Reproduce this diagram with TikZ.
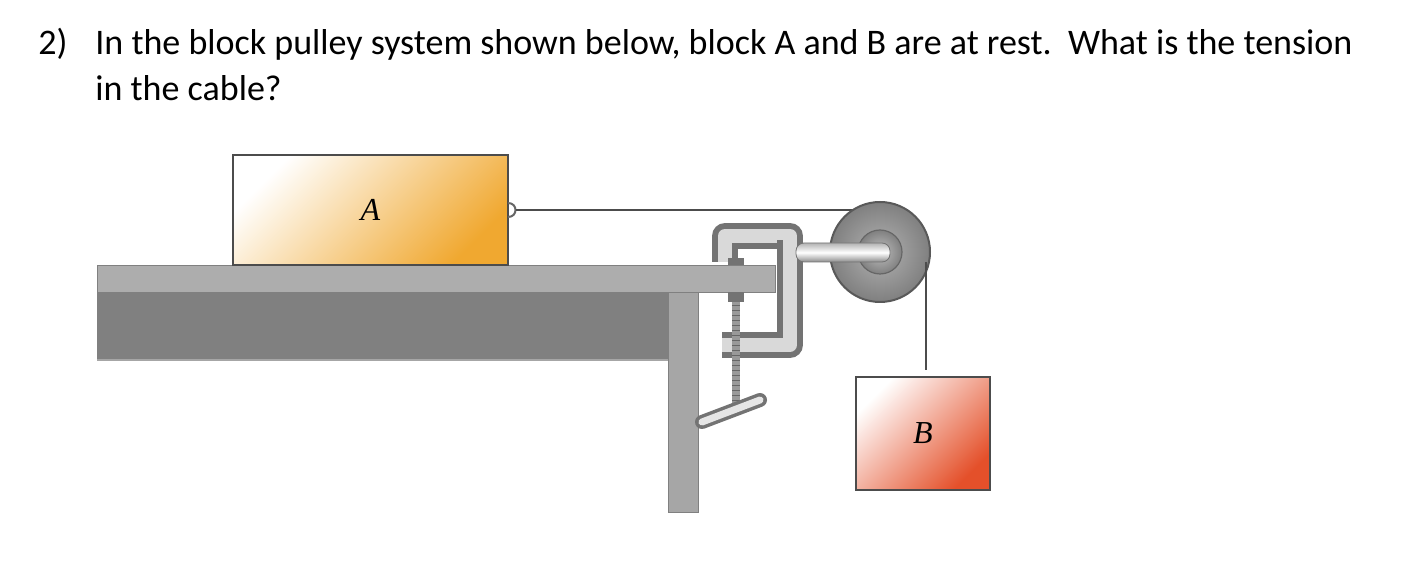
\documentclass[tikz,border=0pt]{standalone}
\usepackage{fontspec}
\setmainfont{Carlito}
\newfontfamily\lblfont{Liberation Serif}
\definecolor{aor}{HTML}{F0A830}
\definecolor{bor}{HTML}{E4502A}
\begin{document}
\begin{tikzpicture}[x=0.5pt,y=-0.5pt,
  txt/.style={anchor=base west,inner sep=0,font=\fontsize{18}{21}\selectfont},
  blk/.style={draw=black!70,line width=1pt},
  cable/.style={draw=black!70,line width=1pt}]
\useasboundingbox (0,0) rectangle (1404,576);
\node[txt] (n) at (38,55) {2)};
\node[txt] (l1) at (95,55) {In the block pulley system shown below, block A and B are at rest.\ \ What is the tension};
\node[txt] (l2) at (95,101) {in the cable?};
% table
\fill[black!50] (97,292) rectangle (668,360);
\draw[black!35,line width=1pt] (97,360) -- (668,360);
\fill[black!35,draw=black!50] (668,292) rectangle (698,512);
\fill[black!32,draw=black!50] (97,265) rectangle (775,292);
% block A
\shade[left color=white,right color=aor,shading angle=45] (233,155) rectangle (508,265);
\node[blk,minimum width=137.5pt,minimum height=55pt,inner sep=0] (A) at (370.5,210) {\lblfont\itshape\fontsize{16}{16}\selectfont A};
\draw[black!60,line width=1pt] (508,203) .. controls (518,203) and (518,217) .. (508,217);
% cable top
\coordinate (c1) at (516,210);
\coordinate (c2) at (860,210);
\draw[cable] (c1) -- (c2);
% clamp
\draw[black!55,line width=13pt,line join=round] (790,252) -- (790,236) -- (725,236) -- (725,262);
\draw[white!85!black,line width=7pt,line join=round] (790,252) -- (790,236) -- (725,236) -- (725,262);
\draw[black!55,line width=13pt,line join=round] (790,240) -- (790,345) -- (722,345);
\draw[white!85!black,line width=7pt,line join=round] (790,240) -- (790,345) -- (722,345);
% screw
\fill[black!40] (732,298) rectangle (740,410);
\foreach \yy in {300,305,...,405} \draw[black!60,line width=0.4pt] (732,\yy) -- (740,\yy);
\fill[black!55] (728,292) rectangle (744,302);
\fill[black!55] (728,258) rectangle (744,265);
\draw[black!55,line width=7pt,line cap=round] (702,422) -- (760,400);
\draw[white!90!black,line width=3.5pt,line cap=round] (702,422) -- (760,400);
% pulley
\shade[inner color=black!30,outer color=black!50] (880,252) circle (50);
\draw[black!65,line width=1pt] (880,252) circle (50);
\shade[inner color=black!25,outer color=black!50] (880,252) circle (22);
\node[circle,draw=black!60,line width=0.6pt,minimum size=22pt,inner sep=0] (P) at (880,252) {};
% axle
\shade[top color=black!30,bottom color=black!45,middle color=white,rounded corners=4pt] (796,243) rectangle (890,262);
\draw[black!55,rounded corners=4pt] (796,243) rectangle (890,262);
% cable to B
\coordinate (c3) at (926,262);
\coordinate (c4) at (926,370);
\draw[cable] (c3) -- (c4);
\fill[black!45] (914,377) arc (180:0:12 and 9) -- cycle;
% block B
\shade[left color=white,right color=bor,shading angle=45] (856,377) rectangle (990,490);
\node[blk,minimum width=67pt,minimum height=56.5pt,inner sep=0] (B) at (923,433.5) {\lblfont\itshape\fontsize{16}{16}\selectfont B};
\end{tikzpicture}
\end{document}
